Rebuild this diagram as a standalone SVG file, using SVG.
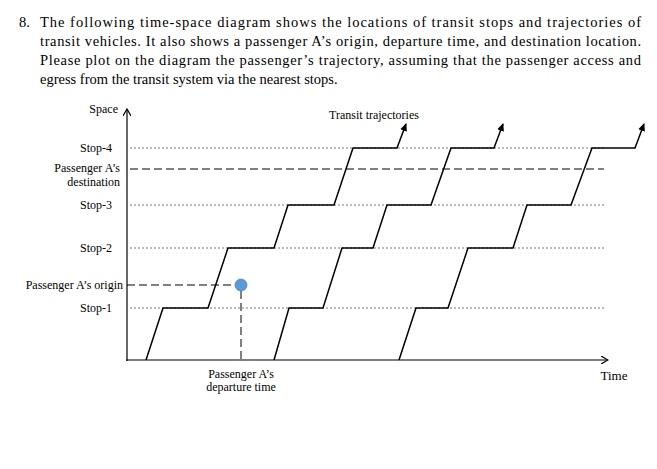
<svg xmlns="http://www.w3.org/2000/svg" width="657" height="469" viewBox="0 0 657 469">
<style>
text{font-family:"Liberation Serif","Times New Roman",serif;fill:#000}
.q{font-size:14.5px}
.l{font-size:12px}
.dot{stroke:#555;stroke-width:0.8;stroke-dasharray:2,2;fill:none}
.dash{stroke:#000;stroke-width:1;stroke-dasharray:8,4;fill:none}
.tr{stroke:#000;stroke-width:1.5;fill:none}
.ax{stroke:#000;stroke-width:1.2;fill:none}
</style>
<defs>
<marker id="ah" markerWidth="8" markerHeight="8" refX="6" refY="4" orient="auto" markerUnits="userSpaceOnUse"><path d="M0,0 L7,4 L0,8" fill="none" stroke="#000" stroke-width="1.2"/></marker>
<marker id="tah" markerWidth="8" markerHeight="8" refX="7" refY="4" orient="auto" markerUnits="userSpaceOnUse"><path d="M0,0.5 L8,4 L0,7.5 Z" fill="#000"/></marker>
</defs>
<g id="question" class="q">
<text x="19" y="27">8.</text>
<text x="40" y="27" textLength="601" lengthAdjust="spacing">The following time-space diagram shows the locations of transit stops and trajectories of</text>
<text x="40" y="46" textLength="601" lengthAdjust="spacing">transit vehicles. It also shows a passenger A’s origin, departure time, and destination location.</text>
<text x="40" y="65" textLength="601" lengthAdjust="spacing">Please plot on the diagram the passenger’s trajectory, assuming that the passenger access and</text>
<text x="40" y="84">egress from the transit system via the nearest stops.</text>
</g>
<g id="gridlines">
<line class="dot" x1="130" y1="148" x2="604" y2="148"/>
<line class="dot" x1="130" y1="205" x2="604" y2="205"/>
<line class="dot" x1="130" y1="248" x2="604" y2="248"/>
<line class="dot" x1="130" y1="308" x2="604" y2="308"/>
<line class="dash" x1="130" y1="169" x2="604" y2="169"/>
</g>
<g id="axes">
<line class="ax" x1="127" y1="361" x2="127" y2="110" marker-end="url(#ah)"/>
<line class="ax" x1="126" y1="360" x2="607" y2="360" marker-end="url(#ah)"/>
</g>
<g id="labels" class="l">
<text x="118" y="113" text-anchor="end">Space</text>
<text x="112" y="152" text-anchor="end">Stop-4</text>
<text x="120" y="172" text-anchor="end">Passenger A’s</text>
<text x="120" y="186" text-anchor="end">destination</text>
<text x="112" y="209" text-anchor="end">Stop-3</text>
<text x="112" y="252" text-anchor="end">Stop-2</text>
<text x="123" y="289" text-anchor="end">Passenger A’s origin</text>
<text x="112" y="312" text-anchor="end">Stop-1</text>
<text x="374" y="119" text-anchor="middle">Transit trajectories</text>
<text x="241" y="378" text-anchor="middle">Passenger A’s</text>
<text x="241" y="391" text-anchor="middle">departure time</text>
<text x="614" y="380" text-anchor="middle" font-size="13">Time</text>
</g>
<g id="connectors">
<polyline class="tr" marker-end="url(#tah)" points="146,360 163,308 208,308 228,248 274,248 288,205 334,205 353,148 397,148 406,124"/>
<polyline class="tr" marker-end="url(#tah)" points="274,360 289,308 323,308 342,248 373,248 387,205 431,205 451,148 494,148 503,124"/>
<polyline class="tr" marker-end="url(#tah)" points="399,360 416,308 448,308 468,248 513,248 527,205 571,205 592,148 635,148 644,124"/>
</g>
<g id="passenger">
<line class="dash" x1="127" y1="285" x2="235" y2="285"/>
<line class="dash" x1="241" y1="291" x2="241" y2="360"/>
<circle cx="241" cy="285" r="6" fill="#5b9bd5" stroke="#4a86c0" stroke-width="0.8"/>
</g>
</svg>
